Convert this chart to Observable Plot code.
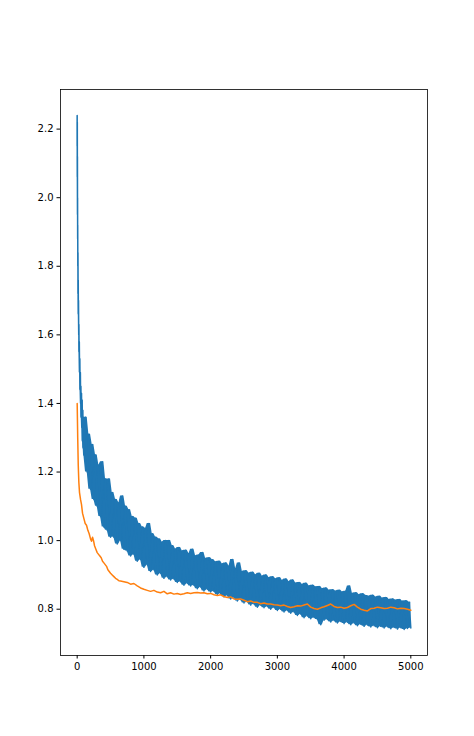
<!DOCTYPE html>
<html>
<head>
<meta charset="utf-8">
<script src="https://cdn.jsdelivr.net/npm/d3@7"></script>
<script src="https://cdn.jsdelivr.net/npm/@observablehq/plot@0.6"></script>
<style>
  html, body { margin: 0; padding: 0; background: #fff; }
  #chart svg { display: block; }
</style>
</head>
<body>
<div id="chart"></div>
<script>
// ---- Data ----
// Training loss (blue), first steps sampled finely
const blueEarlySteps = [0,1,2,3,4,5,6,7,8,10,12,14,16,18,20,23,26,29,32,36,40,44,48,52,56,60,65,70,75,80,85,90,95];
const blueEarlyLoss  = [2.24,2.15,2.22,2.06,2.12,1.95,2.0,1.88,1.92,1.80,1.84,1.72,1.76,1.66,1.70,1.60,1.63,1.55,1.58,1.49,1.53,1.44,1.49,1.40,1.45,1.36,1.43,1.33,1.41,1.29,1.38,1.27,1.36];

// Training loss (blue), from step 100 every 25 steps (alternating low/high of the noisy band)
const blueStart = 100;
const blueEvery = 25;
const blueLoss = [
  1.25,1.36, 1.20,1.31, 1.15,1.28, 1.12,1.25, 1.10,1.22,
  1.07,1.23, 1.04,1.18, 1.03,1.18, 1.01,1.14, 1.01,1.12,
  0.99,1.11, 1.00,1.13, 0.975,1.10, 0.97,1.09, 0.955,1.07,
  0.96,1.065, 0.94,1.05, 0.945,1.04, 0.922,1.035, 0.93,1.05,
  0.91,1.02, 0.915,1.01, 0.90,1.005, 0.905,0.995, 0.89,1.00,
  0.895,1.00, 0.885,0.985, 0.888,0.975, 0.878,0.98, 0.88,0.97,
  0.87,0.972, 0.876,0.962, 0.868,0.975, 0.87,0.955, 0.86,0.958,
  0.865,0.965, 0.853,0.948, 0.858,0.95, 0.85,0.944, 0.852,0.938,
  0.843,0.94, 0.846,0.932, 0.836,0.935, 0.84,0.925, 0.83,0.945,
  0.834,0.918, 0.824,0.935, 0.828,0.91, 0.818,0.912, 0.822,0.905,
  0.812,0.908, 0.815,0.90, 0.806,0.905, 0.812,0.896, 0.804,0.90,
  0.808,0.892, 0.80,0.895, 0.805,0.888, 0.796,0.892, 0.80,0.884,
  0.792,0.888, 0.796,0.88, 0.788,0.885, 0.792,0.876, 0.782,0.878,
  0.786,0.872, 0.775,0.876, 0.78,0.868, 0.772,0.87, 0.776,0.865,
  0.77,0.866, 0.755,0.86, 0.768,0.862, 0.77,0.855, 0.763,0.857,
  0.767,0.852, 0.76,0.855, 0.764,0.85, 0.758,0.852, 0.762,0.868,
  0.755,0.846, 0.76,0.848, 0.752,0.842, 0.756,0.845, 0.75,0.84,
  0.754,0.838, 0.748,0.841, 0.752,0.835, 0.746,0.838, 0.75,0.832,
  0.745,0.834, 0.749,0.828, 0.743,0.83, 0.747,0.826, 0.742,0.828,
  0.746,0.823, 0.741,0.825, 0.744,0.82, 0.745
];

// Validation loss (orange)
const orangeSteps = [0,8,16,25,35,50,65,80,100,120,140,160,180,200,215,230,245,260,280,300,320,340,360,380,400,420,440,460,480,500,525,550,575,600,625,650,700,750,800,850,900,950,1000,1050,1100,1150,1200,1250,1300,1350,1400,1450,1500,1550,1600,1650,1700,1750,1800,1850,1900,1950,2000,2050,2100,2150,2200,2250,2300,2350,2400,2450,2500,2550,2600,2650,2700,2750,2800,2850,2900,2950,3000,3050,3100,3150,3200,3250,3300,3350,3400,3450,3500,3550,3600,3650,3700,3750,3800,3850,3900,3950,4000,4050,4100,4150,4200,4250,4300,4350,4400,4450,4500,4550,4600,4650,4700,4750,4800,4850,4900,4950,5000];
const orangeLoss = [1.40,1.30,1.22,1.17,1.14,1.12,1.105,1.08,1.065,1.05,1.045,1.03,1.02,1.005,0.998,1.01,1.0,0.985,0.975,0.965,0.96,0.955,0.95,0.94,0.935,0.93,0.925,0.915,0.91,0.905,0.9,0.895,0.89,0.887,0.883,0.882,0.88,0.878,0.873,0.875,0.868,0.862,0.858,0.855,0.852,0.855,0.85,0.848,0.852,0.845,0.848,0.844,0.846,0.843,0.845,0.848,0.846,0.848,0.849,0.847,0.848,0.845,0.846,0.842,0.84,0.842,0.837,0.834,0.836,0.83,0.829,0.83,0.826,0.822,0.824,0.82,0.82,0.816,0.818,0.815,0.815,0.813,0.812,0.81,0.812,0.808,0.805,0.807,0.81,0.809,0.812,0.815,0.806,0.802,0.8,0.804,0.807,0.811,0.815,0.808,0.805,0.806,0.803,0.805,0.81,0.814,0.806,0.8,0.797,0.795,0.802,0.803,0.806,0.804,0.802,0.803,0.806,0.804,0.801,0.803,0.802,0.8,0.797];

// Ticks
const xTicks = [0,1000,2000,3000,4000,5000];
const yTicks = [0.8,1.0,1.2,1.4,1.6,1.8,2.0,2.2];

// ---- Tables built from the arrays ----
const blueData = blueEarlySteps.map((s, i) => ({step: s, loss: blueEarlyLoss[i]}))
  .concat(blueLoss.map((v, i) => ({step: blueStart + i * blueEvery, loss: v})));
// band of the noisy line: min / max of each sample and its neighbours
blueData.forEach((d, i) => {
  const w = blueData.slice(Math.max(0, i - 1), i + 2).map(e => e.loss);
  d.lo = d3.min(w);
  d.hi = d3.max(w);
});
const orangeData = orangeSteps.map((s, i) => ({step: s, loss: orangeLoss[i]}));

const chart = Plot.plot({
  width: 474,
  height: 736,
  marginLeft: 60,
  marginRight: 47,
  marginTop: 89,
  marginBottom: 81,
  style: {background: "#fff", fontFamily: "DejaVu Sans, sans-serif", fontSize: "10px", color: "#000"},
  x: {domain: [-250, 5249.95], ticks: xTicks, tickFormat: d3.format("d"), label: null, tickSize: 3.5, tickPadding: 3.5},
  y: {domain: [0.665, 2.3155], ticks: yTicks, tickFormat: d3.format(".1f"), label: null, tickSize: 3.5, tickPadding: 3.5},
  marks: [
    Plot.areaY(blueData, {x: "step", y1: "lo", y2: "hi", fill: "#1f77b4"}),
    Plot.line(blueData, {x: "step", y: "loss", stroke: "#1f77b4", strokeWidth: 1.5, strokeLinejoin: "round"}),
    Plot.line(orangeData, {x: "step", y: "loss", stroke: "#ff7f0e", strokeWidth: 1.5, strokeLinejoin: "round"}),
    Plot.frame({stroke: "#000", strokeWidth: 0.8})
  ]
});
document.getElementById("chart").appendChild(chart);
</script>
</body>
</html>
